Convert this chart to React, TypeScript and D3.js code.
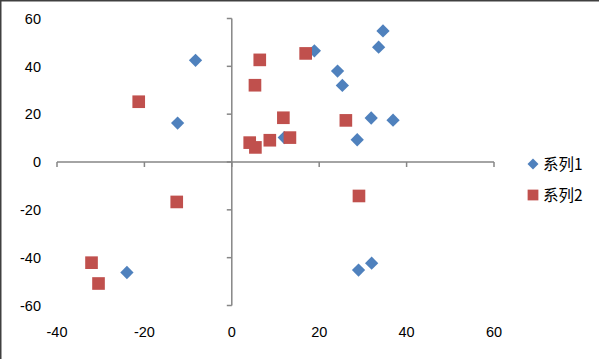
import React from 'react'
import * as d3 from 'd3'

const series1X = [-8.3, -12.4, 18.9, 34.6, 33.6, 24.2, 25.3, 31.9, 36.9, 28.7, -24.0, 29.0, 32.0, 12.0]
const series1Y = [42.5, 16.3, 46.5, 54.8, 48.0, 38.0, 32.0, 18.4, 17.5, 9.3, -46.2, -45.2, -42.3, 10.2]

const series2X = [-21.3, 6.4, 5.3, 11.8, 4.1, 5.4, 8.7, 13.3, 16.9, 26.1, -12.6, -32.1, -30.5, 29.1]
const series2Y = [25.2, 42.7, 32.1, 18.5, 8.1, 6.1, 9.1, 10.2, 45.4, 17.4, -16.7, -42.1, -50.8, -14.2]

const xTicks = [-40, -20, 0, 20, 40, 60]
const yTicks = [-60, -40, -20, 0, 20, 40, 60]
const seriesNames = ['系列1', '系列2']

const BLUE = '#4F81BD'
const RED = '#C0504D'
const AXIS = '#868686'

export default function App() {
  const width = 599
  const height = 359

  const x = d3.scaleLinear().domain([-40, 60]).range([57, 494])
  const y = d3.scaleLinear().domain([-60, 60]).range([305.5, 18.5])

  const diamond = d3.symbol(d3.symbolSquare, 88)()
  const square = d3.symbol(d3.symbolSquare, 160)()
  const legendDiamond = d3.symbol(d3.symbolSquare, 60)()
  const legendSquare = d3.symbol(d3.symbolSquare, 116)()

  const font = '"Liberation Sans", Arial, sans-serif'
  const cjk = '"Noto Sans CJK SC", sans-serif'

  return (
    <div style={{ position: 'fixed', left: 0, top: 0 }}>
      <svg width={width} height={height} style={{ display: 'block', background: '#fff' }}>
        {/* outer frame */}
        <line x1={0} y1={0.5} x2={width} y2={0.5} stroke="#404040" strokeWidth={2} />
        <line x1={0.5} y1={0} x2={0.5} y2={height} stroke="#404040" strokeWidth={2} />

        {/* x axis at y = 0 */}
        <line x1={x(-40)} x2={x(60)} y1={y(0)} y2={y(0)} stroke={AXIS} strokeWidth={1.5} />
        {xTicks.map((t) => (
          <line key={'xt' + t} x1={x(t)} x2={x(t)} y1={y(0)} y2={y(0) + 5} stroke={AXIS} strokeWidth={1.5} />
        ))}
        {/* y axis at x = 0 */}
        <line x1={x(0)} x2={x(0)} y1={y(-60)} y2={y(60)} stroke={AXIS} strokeWidth={1.5} />
        {yTicks.map((t) => (
          <line key={'yt' + t} x1={x(0) - 5} x2={x(0)} y1={y(t)} y2={y(t)} stroke={AXIS} strokeWidth={1.5} />
        ))}

        {/* tick labels at the low edge */}
        {xTicks.map((t) => (
          <text key={'xl' + t} x={x(t)} y={337} textAnchor="middle" fontFamily={font} fontSize={14.5} fill="#000">
            {t}
          </text>
        ))}
        {yTicks.map((t) => (
          <text key={'yl' + t} x={41} y={y(t)} dy="0.36em" textAnchor="end" fontFamily={font} fontSize={14.5} fill="#000">
            {t}
          </text>
        ))}

        {/* series 1 */}
        {series1X.map((v, i) => (
          <path
            key={'s1' + i}
            d={diamond}
            transform={`translate(${x(v)},${y(series1Y[i])}) rotate(45)`}
            fill={BLUE}
          />
        ))}
        {/* series 2 */}
        {series2X.map((v, i) => (
          <path key={'s2' + i} d={square} transform={`translate(${x(v)},${y(series2Y[i])})`} fill={RED} />
        ))}

        {/* legend */}
        <path d={legendDiamond} transform="translate(533,164) rotate(45)" fill={BLUE} />
        <text x={543} y={164} dy="0.36em" fontFamily={cjk} fontSize={15.5} fill="#000">
          {seriesNames[0]}
        </text>
        <path d={legendSquare} transform="translate(533,195)" fill={RED} />
        <text x={543} y={195} dy="0.36em" fontFamily={cjk} fontSize={15.5} fill="#000">
          {seriesNames[1]}
        </text>
      </svg>
    </div>
  )
}
